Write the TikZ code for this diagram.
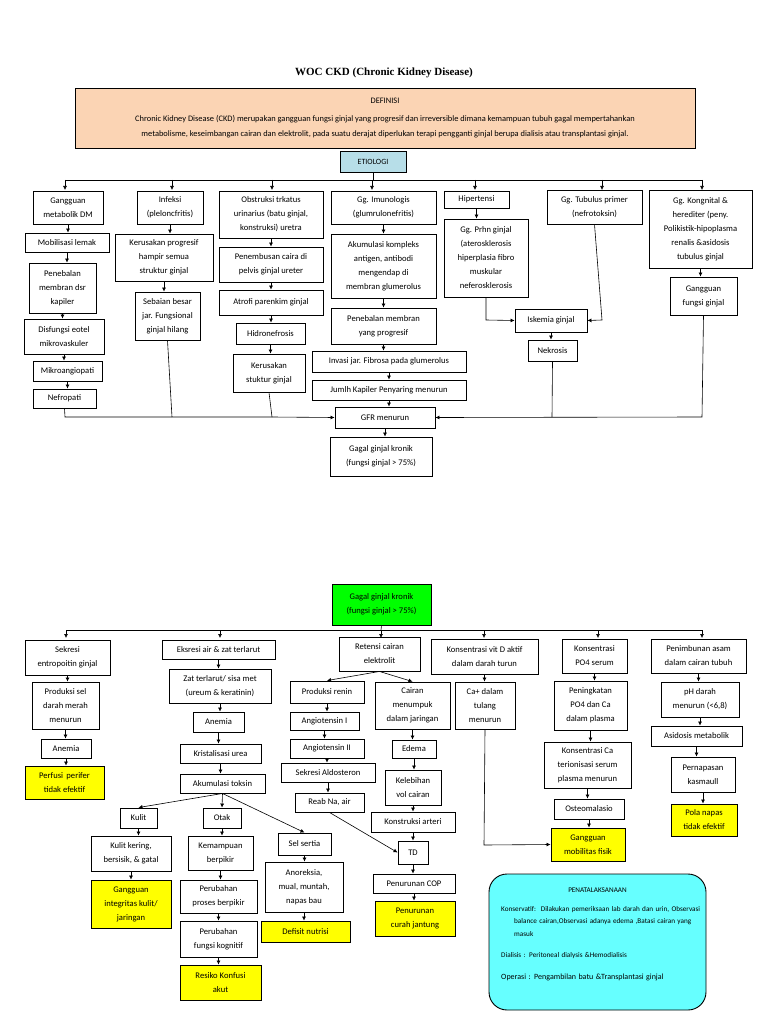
\documentclass[tikz,border=0pt]{standalone}
\usepackage{fontspec}
\setmainfont{Carlito}
\newfontfamily\ttl{Liberation Serif}
\usetikzlibrary{arrows.meta}
\definecolor{peach}{HTML}{FBD4B4}
\definecolor{etio}{HTML}{B7DEE8}
\definecolor{ylw}{HTML}{FFFF00}
\definecolor{grn}{HTML}{00FF00}
\definecolor{cyn}{HTML}{66FFFF}
\newcommand\B[7][]{\node[box,#1,minimum width={(#4-#2)*1pt},minimum height={(#5-#3)*1pt}] (#6) at ({(#2+#4)/2},{-(#3+#5)/2}) {#7};}
\newcommand\V[2]{\draw[arr] (#1.south) -- (#1.south |- #2.north);}
\begin{document}
\begin{tikzpicture}[x=1pt,y=1pt,
 box/.style={draw,line width=0.9pt,align=center,inner sep=1pt,font=\fontsize{8.6}{14}\selectfont},
 yel/.style={fill=ylw},
 arr/.style={line width=0.6pt,-{Latex[length=4pt,width=4pt]}},
 ln/.style={line width=0.6pt}]
\useasboundingbox (0,0) rectangle (768,-1024);
\node[font=\ttl\bfseries\fontsize{11}{13}\selectfont] (title) at (384,-73) {WOC CKD (Chronic Kidney Disease)};
\B[fill=peach,font=\fontsize{8.4}{15}\selectfont]{75}{88}{695}{148}{def}{DEFINISI\\[3pt]Chronic Kidney Disease (CKD) merupakan gangguan fungsi ginjal yang progresif dan irreversible dimana kemampuan tubuh gagal mempertahankan\\metabolisme, keseimbangan cairan dan elektrolit, pada suatu derajat diperlukan terapi pengganti ginjal berupa dialisis atau transplantasi ginjal.}
\B[fill=etio,font=\fontsize{8}{10}\selectfont]{340}{151}{406}{172}{etio}{ETIOLOGI}
% top columns
\B{33}{191}{103}{224}{a1}{Gangguan\\metabolik DM}
\B{25}{233}{109}{252}{a2}{Mobilisasi lemak}
\B{29}{263}{96}{313}{a3}{Penebalan\\membran dsr\\kapiler}
\B{24}{319}{104}{354}{a4}{Disfungsi eotel\\mikrovaskuler}
\B{33}{361}{102}{381}{a5}{Mikroangiopati}
\B{33}{389}{96}{408}{a6}{Nefropati}
\B{137}{191}{203}{224}{b1}{Infeksi\\(pleloncfritis)}
\B{115}{234}{213}{281}{b2}{Kerusakan progresif\\hampir semua\\struktur ginjal}
\B{135}{292}{200}{340}{b3}{Sebaian besar\\jar. Fungsional\\ginjal hilang}
\B{219}{191}{323}{238}{c1}{Obstruksi trkatus\\urinarius (batu ginjal,\\konstruksi) uretra}
\B{219}{247}{323}{282}{c2}{Penembusan caira di\\pelvis ginjal ureter}
\B{219}{290}{323}{315}{c3}{Atrofi parenkim ginjal}
\B{236}{323}{305}{344}{c4}{Hidronefrosis}
\B{233}{354}{305}{392}{c5}{Kerusakan\\stuktur ginjal}
\B{331}{191}{436}{224}{d1}{Gg. Imunologis\\(glumrulonefritis)}
\B{331}{234}{436}{298}{d2}{Akumulasi kompleks\\antigen, antibodi\\mengendap di\\membran glumerolus}
\B{331}{308}{436}{344}{d3}{Penebalan membran\\yang progresif}
\B{312}{351}{466}{372}{d4}{Invasi jar. Fibrosa pada glumerolus}
\B{312}{380}{466}{400}{d5}{Jumlh Kapiler Penyaring menurun}
\B{335}{407}{435}{428}{gfr}{GFR menurun}
\B{330}{437}{432}{476}{ggk}{Gagal ginjal kronik\\(fungsi ginjal > 75\%)}
\B{444}{191}{509}{208}{e1}{Hipertensi}
\B{444}{219}{528}{297}{e2}{Gg. Prhn ginjal\\(aterosklerosis\\hiperplasia fibro\\muskular\\neferosklerosis}
\B{515}{309}{587}{332}{isk}{Iskemia ginjal}
\B{528}{340}{577}{361}{nek}{Nekrosis}
\B{547}{190}{642}{224}{f1}{Gg. Tubulus primer\\(nefrotoksin)}
\B{649}{190}{752}{268}{g1}{Gg. Kongnital \&\\herediter (peny.\\Polikistik-hipoplasma\\renalis \&asidosis\\tubulus ginjal}
\B{670}{277}{737}{315}{g2}{Gangguan\\fungsi ginjal}
% etiologi bus
\draw[ln] (etio.south) -- (373,-180);
\draw[ln] (65,-180) -- (702,-180);
\foreach \n/\x in {a1/65,b1/172,c1/272,d1/372,e1/475,f1/602,g1/702}
  \draw[arr] (\x,-180) -- (\x,-190);
\V{a1}{a2}\V{a2}{a3}\V{a3}{a4}\V{a4}{a5}\V{a5}{a6}
\V{b1}{b2}\V{b2}{b3}
\V{c1}{c2}\V{c2}{c3}\V{c3}{c4}\V{c4}{c5}
\V{d1}{d2}\V{d2}{d3}\V{d3}{d4}\V{d4}{d5}\V{d5}{gfr}\V{gfr}{ggk}
\V{e1}{e2}\V{isk}{nek}\V{g1}{g2}
\draw[ln] (a6.south) -- (65,-417) -- (272,-417);
\draw[ln] (b3.south) -- (172,-417);
\draw[ln] (c5.south) -- (272,-417);
\draw[arr] (272,-417) -- (gfr.west);
\draw[arr] (g2.south) -- (702,-417) -- (gfr.east);
\draw[ln] (nek.south) -- (552,-417);
\draw[arr] (e2.south) -- (486,-320) -- (isk.west);
\draw[arr] (f1.south) -- (602,-320) -- (isk.east);
% bottom
\B[fill=grn]{332}{584}{431}{625}{ggk2}{Gagal ginjal kronik\\(fungsi ginjal > 75\%)}
\draw[ln] (ggk2.south) -- (381,-630);
\draw[ln] (66,-630) -- (702,-630);
\B{25}{640}{110}{675}{s1}{Sekresi\\entropoitin ginjal}
\B{32}{682}{99}{729}{s2}{Produksi sel\\darah merah\\menurun}
\B{41}{739}{91}{758}{s3}{Anemia}
\B[yel]{25}{766}{104}{799}{s4}{Perfusi\, perifer\\tidak efektif}
\B{162}{640}{275}{659}{t1}{Eksresi air \& zat terlarut}
\B{169}{669}{271}{703}{t2}{Zat terlarut/ sisa met\\(ureum \& keratinin)}
\B{193}{712}{244}{732}{t3}{Anemia}
\B{180}{744}{261}{763}{t4}{Kristalisasi urea}
\B{180}{774}{265}{793}{t5}{Akumulasi toksin}
\B{120}{808}{157}{828}{k1}{Kulit}
\B{91}{836}{171}{871}{k2}{Kulit kering,\\bersisik, \& gatal}
\B[yel]{91}{880}{171}{928}{k3}{Gangguan\\integritas kulit/\\jaringan}
\B{203}{808}{241}{828}{o1}{Otak}
\B{188}{836}{253}{870}{o2}{Kemampuan\\berpikir}
\B{180}{880}{257}{913}{o3}{Perubahan\\proses berpikir}
\B{180}{921}{257}{957}{o4}{Perubahan\\fungsi kognitif}
\B[yel]{180}{965}{261}{1000}{o5}{Resiko Konfusi\\akut}
\B{278}{833}{331}{855}{p1}{Sel sertia}
\B{265}{862}{343}{912}{p2}{Anoreksia,\\mual, muntah,\\napas bau}
\B[yel]{261}{921}{350}{942}{p3}{Defisit nutrisi}
\B{339}{637}{420}{671}{r1}{Retensi cairan\\elektrolit}
\B{290}{681}{364}{703}{r2}{Produksi renin}
\B{290}{712}{359}{730}{r3}{Angiotensin I}
\B{290}{739}{364}{758}{r4}{Angiotensin II}
\B{281}{763}{375}{782}{r5}{Sekresi Aldosteron}
\B{295}{793}{364}{812}{r6}{Reab Na, air}
\B{375}{682}{450}{729}{q1}{Cairan\\menumpuk\\dalam jaringan}
\B{392}{740}{436}{758}{q2}{Edema}
\B{385}{770}{441}{805}{q3}{Kelebihan\\vol cairan}
\B{371}{812}{455}{832}{q4}{Konstruksi arteri}
\B{398}{841}{428}{864}{q5}{TD}
\B{373}{874}{455}{893}{q6}{Penurunan COP}
\B[yel]{375}{901}{455}{936}{q7}{Penurunan\\curah jantung}
\B{431}{639}{538}{674}{v1}{Konsentrasi vit D aktif\\dalam darah turun}
\B{455}{682}{515}{729}{v2}{Ca+ dalam\\tulang\\menurun}
\B[yel]{551}{828}{625}{861}{mob}{Gangguan\\mobilitas fisik}
\B{562}{639}{627}{673}{w1}{Konsentrasi\\PO4 serum}
\B{554}{681}{627}{730}{w2}{Peningkatan\\PO4 dan Ca\\dalam plasma}
\B{544}{742}{631}{788}{w3}{Konsentrasi Ca\\terionisasi serum\\plasma menurun}
\B{554}{799}{624}{819}{w4}{Osteomalasio}
\B{651}{639}{746}{673}{x1}{Penimbunan asam\\dalam cairan tubuh}
\B{661}{682}{739}{717}{x2}{pH darah\\menurun (<6,8)}
\B{651}{726}{742}{746}{x3}{Asidosis metabolik}
\B{671}{757}{735}{792}{x4}{Pernapasan\\kasmaull}
\B[yel]{671}{804}{737}{836}{x5}{Pola napas\\tidak efektif}
\foreach \x in {66,220,381,484,598,702} \draw[arr] (\x,-630) -- (\x,-638);
\V{s1}{s2}\V{s2}{s3}\V{s3}{s4}
\V{t1}{t2}\V{t2}{t3}\V{t3}{t4}\V{t4}{t5}
\draw[arr] (t5.south) -- (k1.north);
\draw[arr] (t5.south) -- (o1.north);
\draw[arr] (t5.south) -- (p1.north);
\V{k1}{k2}\V{k2}{k3}
\V{o1}{o2}\V{o2}{o3}\V{o3}{o4}\V{o4}{o5}
\V{p1}{p2}\V{p2}{p3}
\draw[arr] (r1.south) -- (r2.north);
\draw[arr] (r1.south) -- (q1.north);
\V{r2}{r3}\V{r3}{r4}\V{r4}{r5}\V{r5}{r6}
\V{q1}{q2}\V{q2}{q3}\V{q3}{q4}\V{q4}{q5}\V{q5}{q6}\V{q6}{q7}
\draw[arr] (r6.south) -- (q5.west);
\V{v1}{v2}
\draw[arr] (v2.south) -- (484,-845) -- (mob.west);
\V{w1}{w2}\V{w2}{w3}\V{w3}{w4}\V{w4}{mob}
\V{x1}{x2}\V{x2}{x3}\V{x3}{x4}\V{x4}{x5}
\node[draw,line width=0.9pt,fill=cyn,rounded corners=18pt,minimum width=217pt,minimum height=136pt] (pen) at (597.5,-942) {};
\node[font=\fontsize{7.2}{9}\selectfont] (pent) at (597.5,-890) {PENATALAKSANAAN};
\node[anchor=north west,text width=200pt,align=left,inner sep=0pt,font=\fontsize{7.2}{12.5}\selectfont] (pentx) at (501,-906) {%
\hangindent=13pt\hangafter=1 Konservatif:\ \ Dilakukan pemeriksaan lab darah dan urin, Observasi balance cairan,Observasi adanya edema ,Batasi cairan yang masuk\par\vspace{9pt}
\hangindent=13pt\hangafter=1 Dialisis : Peritoneal dialysis \&Hemodialisis\par\vspace{9pt}
\hangindent=13pt\hangafter=1 {\fontsize{8}{14}\selectfont Operasi : Pengambilan batu \&Transplantasi ginjal}\par};
\end{tikzpicture}
\end{document}
